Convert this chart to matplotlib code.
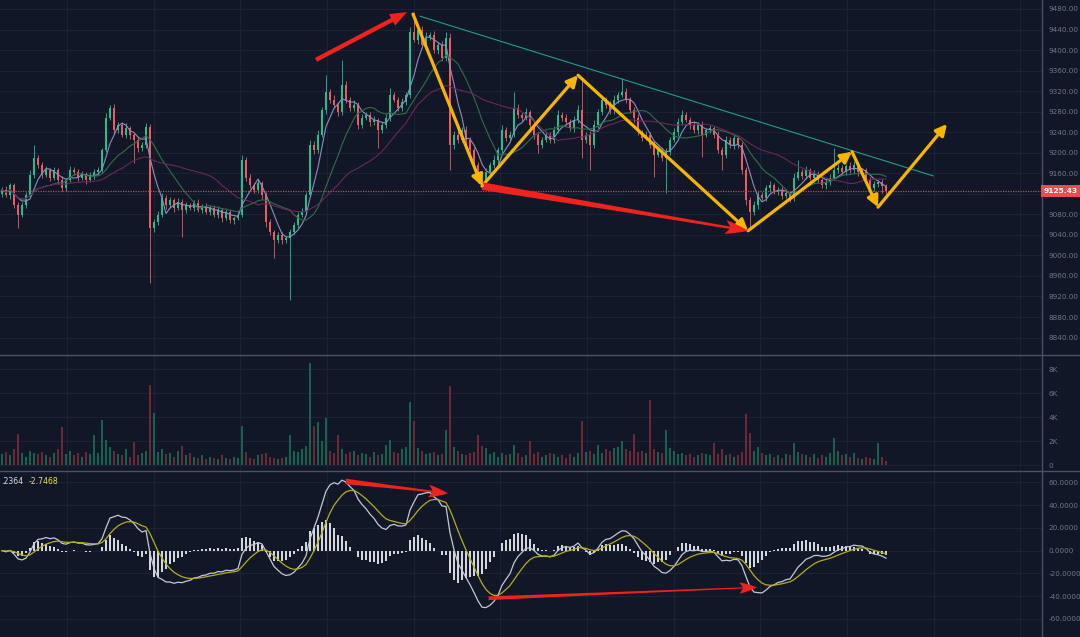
import numpy as np
import pandas as pd
import matplotlib
matplotlib.use("Agg")
import matplotlib.pyplot as plt
from matplotlib.lines import Line2D
from matplotlib.transforms import blended_transform_factory

# ---------------- data ----------------
first_open = 9120
close = [
    9128, 9118, 9137, 9098, 9079, 9098, 9118, 9157, 9190, 9176,
    9157, 9166, 9151, 9166, 9147, 9131, 9147, 9166, 9163, 9151,
    9159, 9147, 9155, 9163, 9166, 9205, 9268, 9287, 9244, 9254,
    9235, 9248, 9235, 9225, 9209, 9215, 9250, 9054, 9065, 9079,
    9112, 9098, 9108, 9093, 9104, 9089, 9098, 9093, 9102, 9089,
    9096, 9085, 9093, 9079, 9089, 9073, 9085, 9069, 9073, 9079,
    9186, 9151, 9137, 9128, 9141, 9118, 9065, 9046, 9030, 9040,
    9030, 9034, 9046, 9059, 9079, 9085, 9118, 9215, 9205, 9235,
    9283, 9318, 9303, 9293, 9279, 9332, 9303, 9287, 9293, 9254,
    9268, 9274, 9260, 9264, 9244, 9254, 9268, 9313, 9303, 9287,
    9299, 9313, 9435, 9420, 9439, 9410, 9424, 9429, 9400, 9410,
    9385, 9424, 9215, 9235, 9225, 9244, 9225, 9205, 9176, 9147,
    9137, 9163, 9176, 9186, 9205, 9244, 9229, 9235, 9287, 9274,
    9268, 9279, 9254, 9235, 9215, 9225, 9235, 9225, 9244, 9274,
    9268, 9260, 9248, 9264, 9283, 9225, 9235, 9215, 9254, 9279,
    9303, 9293, 9283, 9303, 9313, 9318, 9303, 9283, 9268, 9240,
    9229, 9235, 9215, 9196, 9205, 9190, 9202, 9225, 9240, 9260,
    9274, 9264, 9254, 9244, 9254, 9235, 9244, 9248, 9235, 9205,
    9196, 9225, 9215, 9229, 9215, 9166, 9108, 9085, 9098, 9118,
    9112, 9131, 9137, 9124, 9128, 9116, 9122, 9112, 9151, 9163,
    9155, 9166, 9151, 9159, 9147, 9137, 9143, 9151, 9166, 9170,
    9163, 9174, 9166, 9176, 9163, 9166, 9147, 9131, 9139, 9143,
    9135, 9125.43,
]
wick_up = [
    6, 8, 5, 4, 6, 7, 5, 10, 25, 6,
    5, 8, 4, 6, 5, 7, 4, 9, 6, 5,
    6, 4, 8, 5, 7, 5, 10, 6, 8, 5,
    6, 9, 5, 4, 6, 5, 7, 5, 6, 8,
    9, 5, 6, 4, 7, 5, 6, 4, 5, 7,
    5, 6, 4, 5, 7, 4, 6, 5, 4, 6,
    10, 6, 8, 5, 7, 4, 6, 5, 4, 6,
    5, 4, 6, 7, 5, 8, 6, 10, 8, 9,
    6, 33, 7, 9, 6, 49, 8, 6, 9, 5,
    7, 6, 5, 8, 4, 6, 7, 13, 6, 5,
    8, 6, 10, 39, 8, 7, 12, 6, 9, 5,
    8, 11, 9, 7, 10, 6, 8, 5, 7, 6,
    5, 8, 6, 9, 7, 10, 6, 8, 31, 7,
    6, 9, 5, 8, 6, 5, 7, 6, 8, 10,
    6, 7, 5, 8, 10, 63, 6, 7, 9, 6,
    8, 5, 7, 9, 6, 28, 8, 5, 6, 7,
    5, 8, 6, 7, 5, 6, 8, 6, 9, 7,
    10, 6, 5, 8, 6, 7, 5, 6, 4, 7,
    6, 8, 5, 7, 6, 5, 6, 5, 8, 7,
    5, 6, 8, 4, 6, 5, 7, 4, 9, 23,
    6, 8, 5, 7, 6, 4, 5, 7, 43, 8,
    6, 5, 7, 8, 6, 5, 4, 6, 5, 4,
    5, 4,
]
wick_dn = [
    7, 5, 8, 6, 25, 5, 6, 4, 7, 5,
    6, 4, 7, 5, 8, 6, 5, 4, 7, 6,
    5, 8, 4, 6, 5, 6, 4, 5, 7, 6,
    5, 6, 8, 45, 7, 6, 5, 107, 8, 6,
    5, 7, 6, 8, 5, 53, 6, 5, 7, 4,
    6, 5, 7, 5, 6, 8, 5, 6, 7, 5,
    4, 6, 5, 7, 6, 8, 9, 6, 35, 5,
    7, 6, 121, 5, 6, 4, 7, 5, 8, 6,
    5, 7, 6, 5, 8, 6, 7, 5, 6, 8,
    6, 5, 7, 6, 35, 5, 6, 7, 5, 6,
    5, 7, 6, 5, 8, 6, 7, 5, 6, 8,
    6, 7, 49, 8, 6, 5, 9, 19, 7, 6,
    6, 5, 8, 6, 7, 5, 6, 8, 5, 7,
    6, 5, 7, 8, 15, 6, 5, 7, 6, 5,
    7, 6, 5, 8, 6, 35, 7, 49, 6, 5,
    6, 5, 7, 8, 6, 5, 7, 6, 8, 6,
    7, 5, 6, 43, 5, 7, 68, 6, 5, 8,
    6, 5, 7, 6, 8, 43, 5, 6, 7, 6,
    30, 6, 5, 7, 6, 8, 9, 29, 6, 7,
    5, 6, 8, 5, 7, 6, 5, 7, 6, 5,
    7, 6, 5, 8, 6, 5, 7, 6, 5, 6,
    5, 7, 6, 5, 8, 6, 7, 19, 6, 5,
    14, 6,
]
volume = [
    900, 1100, 800, 1300, 2580, 1000, 700, 1200, 1000, 900,
    1100, 800, 700, 1000, 1300, 3200, 900, 1200, 800, 1000,
    700, 1100, 900, 2500, 1000, 3750, 2100, 1500, 1200, 900,
    800, 1300, 700, 1950, 800, 1000, 1200, 6670, 4360, 1100,
    1300, 900, 1000, 700, 1200, 1580, 800, 1000, 700, 600,
    800, 500, 700, 600, 500, 800, 600, 500, 700, 600,
    3250, 1100, 600, 500, 800, 900, 1000, 700, 600, 500,
    600, 700, 2500, 1200, 1100, 1300, 1600, 8480, 3250, 3600,
    2000, 3900, 1200, 1000, 2500, 1300, 900, 1100, 1200, 800,
    1000, 900, 700, 1100, 800, 900, 1670, 2080, 1100, 1000,
    1300, 1500, 5280, 3700, 1400, 1200, 900, 1000, 1100, 800,
    900, 2920, 6590, 1530, 1200, 900, 800, 1000, 1100, 2500,
    1580, 1400, 900, 1100, 700, 1000, 800, 900, 1640, 1000,
    700, 800, 2000, 900, 1100, 700, 800, 1000, 900, 700,
    800, 600, 900, 700, 1000, 3670, 1100, 1200, 900, 1670,
    1000, 1300, 1200, 1400, 1500, 2030, 1300, 1200, 2580, 1100,
    1200, 1000, 5420, 1300, 1100, 1000, 2920, 1400, 1200, 900,
    1000, 800, 900, 700, 800, 1000, 900, 800, 1860, 900,
    1300, 800, 900, 700, 800, 1100, 4250, 2640, 1200, 1470,
    1000, 800, 900, 700, 800, 600, 900, 800, 1800, 1100,
    900, 800, 700, 900, 600, 800, 700, 1000, 2220, 1200,
    800, 900, 700, 1000, 600, 500, 700, 600, 500, 1800,
    700, 300,
]
last_price = 9125.43

price_ticks = list(range(8840, 9481, 40))
vol_ticks = [0, 2000, 4000, 6000, 8000]
vol_labels = ["0", "2K", "4K", "6K", "8K"]
macd_ticks = [-60, -40, -20, 0, 20, 40, 60]
grid_x = [16.2, 37.9, 59.6, 81.2, 102.9, 124.6, 146.3, 167.9, 189.6, 211.3, 233.0, 254.6]

ma_periods = [5, 13, 28]
macd_fast, macd_slow, macd_sig = 9, 20, 7
macd_text_dif = ".2364"
macd_text_dea = "-2.7468"

# annotations (candle index, value)
zz_idx = [102.75, 120.0, 144.0, 186.5, 212.5, 219.0, 236.25]
zz_val = [9470, 9135, 9351, 9048, 9202, 9094, 9256]
trend_idx = [104.5, 232.75]
trend_val = [9466, 9155]
red1 = [(78.5, 9381), (101.25, 9474)]
red2 = [(120.0, 9135), (186.5, 9048)]
red3 = [(85.75, 60.8), (111.5, 50.3)]
red4 = [(121.5, -41.8), (188.75, -32.2)]

# ---------------- style ----------------
BG = "#121728"
GRID = "#1e2438"
AXC = "#4a5068"
TXT = "#6f7489"
UP = "#22c08c"
DN = "#f05a5e"
VUP = "#17614f"
VDN = "#6c2935"
YEL = "#f7b500"
RED = "#f0221e"

W, H = 1080, 637
fig = plt.figure(figsize=(W / 100, H / 100), dpi=100, facecolor=BG)
axw = 1042 / W
ax1 = fig.add_axes([0, 1 - 355 / H, axw, 355 / H])
ax2 = fig.add_axes([0, 1 - 471 / H, axw, 116 / H], sharex=ax1)
ax3 = fig.add_axes([0, 0, axw, 166 / H], sharex=ax1)

n = len(close)
idx = np.arange(n)
c = np.array(close, dtype=float)
o = np.concatenate([[first_open], c[:-1]])
hi = np.maximum(o, c) + np.array(wick_up)
lo = np.minimum(o, c) - np.array(wick_dn)
up = c >= o
cols = np.where(up, UP, DN)

for ax in (ax1, ax2, ax3):
    ax.set_facecolor(BG)
    for s in ("top", "left", "bottom"):
        ax.spines[s].set_visible(False)
    ax.spines["right"].set_color(AXC)
    ax.spines["right"].set_linewidth(1)
    ax.yaxis.tick_right()
    ax.tick_params(axis="y", length=0, pad=5, labelsize=5.2, labelcolor=TXT)
    ax.tick_params(axis="x", length=0, labelbottom=False)
    ax.set_xticks(grid_x)
    ax.grid(True, color=GRID, lw=0.6)
    ax.set_axisbelow(True)

ax1.set_xlim(-0.5, 260)

# price panel
ax1.vlines(idx, lo, hi, colors=cols, lw=0.6, zorder=2)
body = np.where(np.abs(c - o) < 1.5, 1.5, c - o)
ax1.bar(idx, body, bottom=o, width=0.7, color=cols, zorder=3, linewidth=0)
s = pd.Series(c)
ma_cols = ["#8a8ec0", "#2f6e48", "#6a2757"]
for p, mc in zip(ma_periods, ma_cols):
    ax1.plot(idx, s.rolling(p, min_periods=1).mean(), color=mc, lw=0.8, zorder=4)
ax1.set_ylim(8806, 9497.5)
ax1.set_yticks(price_ticks)
# the 9120 label sits under the last-price marker in the reference
ax1.set_yticklabels(["" if abs(t - last_price) < 15 else f"{t:.2f}" for t in price_ticks])
ax1.axhline(last_price, color="#c8424c", lw=0.9, ls=(0, (1, 1)), zorder=5)
tr = blended_transform_factory(ax1.transAxes, ax1.transData)
ax1.text(1.0015, last_price, f"{last_price:.2f}", transform=tr, color="white",
         fontsize=5.4, va="center", ha="left", fontweight="bold", zorder=10,
         bbox=dict(boxstyle="square,pad=0.35", fc="#ee4a52", ec="none"), clip_on=False)

# trend line
ax1.plot(trend_idx, trend_val, color="#1f9e89", lw=0.8, zorder=6)
# yellow zigzag
for k in range(len(zz_idx) - 1):
    ax1.annotate("", xy=(zz_idx[k + 1], zz_val[k + 1]), xytext=(zz_idx[k], zz_val[k]),
                 arrowprops=dict(arrowstyle="-|>,head_length=0.55,head_width=0.28", color=YEL,
                                 lw=2.3, shrinkA=0, shrinkB=0, mutation_scale=12), zorder=8)
# red arrows
ax1.annotate("", xy=red1[1], xytext=red1[0],
             arrowprops=dict(arrowstyle="simple,head_length=1.1,head_width=0.85,tail_width=0.28",
                             color=RED, shrinkA=0, shrinkB=0, mutation_scale=11, lw=0), zorder=9)
ax1.annotate("", xy=red2[1], xytext=red2[0],
             arrowprops=dict(arrowstyle="fancy,head_length=1.5,head_width=0.9,tail_width=0.5",
                             color=RED, shrinkA=0, shrinkB=0, mutation_scale=11, lw=0), zorder=9)

# volume panel
ax2.bar(idx, volume, width=0.72, color=np.where(up, VUP, VDN), linewidth=0, zorder=3)
ax2.set_ylim(-500, 9170)
ax2.set_yticks(vol_ticks)
ax2.set_yticklabels(vol_labels)

# MACD panel
ema_f = s.ewm(span=macd_fast, adjust=False).mean()
ema_s = s.ewm(span=macd_slow, adjust=False).mean()
dif = ema_f - ema_s
dea = dif.ewm(span=macd_sig, adjust=False).mean()
hist = dif - dea
ax3.bar(idx, hist, width=0.35, color="#d4d6de", linewidth=0, zorder=3)
ax3.plot(idx, dif, color="#c4c7d2", lw=0.9, zorder=4)
ax3.plot(idx, dea, color="#b3ad1c", lw=0.9, zorder=5)
ax3.set_ylim(-75.8, 69.9)
ax3.set_yticks(macd_ticks)
ax3.set_yticklabels([f"{t:.4f}" for t in macd_ticks])
ax3.annotate("", xy=red3[1], xytext=red3[0],
             arrowprops=dict(arrowstyle="fancy,head_length=1.4,head_width=0.9,tail_width=0.4",
                             color=RED, shrinkA=0, shrinkB=0, mutation_scale=10, lw=0), zorder=9)
ax3.annotate("", xy=red4[1], xytext=red4[0],
             arrowprops=dict(arrowstyle="fancy,head_length=1.4,head_width=0.9,tail_width=0.3",
                             color=RED, shrinkA=0, shrinkB=0, mutation_scale=9, lw=0), zorder=9)
ax3.text(0.001, 0.935, macd_text_dif, transform=ax3.transAxes, color="#d8d8e0",
         fontsize=5.6, va="center", ha="left")
ax3.text(0.027, 0.935, macd_text_dea, transform=ax3.transAxes, color="#e6e23a",
         fontsize=5.6, va="center", ha="left")

# panel separators
for yy in (355, 471):
    fig.add_artist(Line2D([0, 1], [1 - yy / H] * 2, color=AXC, lw=1))

fig.savefig("out.png", dpi=100, facecolor=BG)
